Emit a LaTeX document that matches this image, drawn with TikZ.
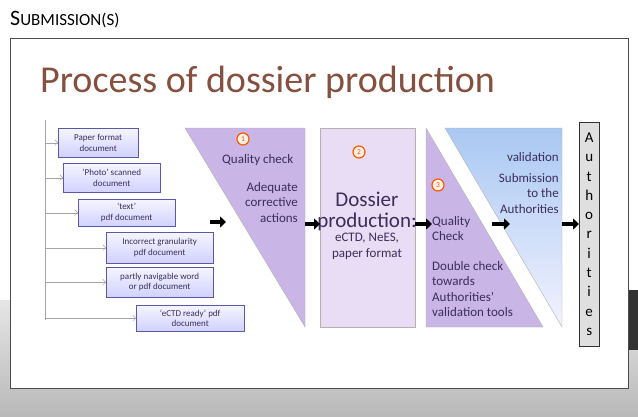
\documentclass[tikz,border=0pt]{standalone}
\usepackage{fontspec}
\setmainfont{Carlito}
\usetikzlibrary{arrows.meta,shapes.geometric}
\definecolor{purp}{HTML}{C9B5E6}
\definecolor{purpl}{HTML}{E8DDF5}
\definecolor{bl}{HTML}{A9C8F2}
\definecolor{ttl}{HTML}{84503F}
\definecolor{txt}{HTML}{3B2E5A}
\tikzset{
 doc/.style={draw=blue!30!gray, top color=blue!4, bottom color=blue!18, font=\fontsize{9}{10.5}\selectfont, text=txt, align=center, inner sep=0pt, anchor=north west},
 br/.style={draw=gray!70, -{Straight Barb[length=3pt]}},
 bigarr/.style={line width=4pt, -{Triangle[length=6pt,width=11pt]}},
 lbl/.style={font=\fontsize{13}{15.5}\selectfont, text=txt, inner sep=0pt},
 icon/.style={circle, draw=orange!70!red, fill=orange!10, line width=1.2pt, inner sep=0pt, minimum size=12pt, font=\fontsize{7.5}{7.5}\selectfont, text=orange!60!red}
}
\begin{document}
\begin{tikzpicture}[x=1pt,y=-1pt]
\useasboundingbox (0,0) rectangle (638,416);
\fill[top color=gray!20, bottom color=gray!55] (0,300) rectangle (638,416);
\fill[black!80] (628,290) rectangle (638,350);
\draw[gray!60!black, fill=white, line width=1pt] (10,38) rectangle (628,388);
\node[anchor=west, font=\fontsize{22}{22}\selectfont, inner sep=0pt] (sub) at (10,20) {S\fontsize{17}{17}\selectfont UBMISSION(S)};
\node[anchor=west, font=\fontsize{38}{38}\selectfont, text=ttl, inner sep=0pt] (title) at (40,82) {Process of dossier production};
% documents
\coordinate (top) at (45,120);
\coordinate (bot) at (45,320);
\draw[gray!70] (top) -- (bot);
\node[doc, minimum width=80pt, minimum height=29pt] (d1) at (58,128) {Paper format\\document};
\node[doc, minimum width=97pt, minimum height=29pt] (d2) at (63,163) {`Photo' scanned\\document};
\node[doc, minimum width=97pt, minimum height=27pt] (d3) at (78,199) {`text'\\pdf document};
\node[doc, minimum width=107pt, minimum height=31pt] (d4) at (106,232) {Incorrect granularity\\pdf document};
\node[doc, minimum width=107pt, minimum height=30pt] (d5) at (106,267) {partly navigable word\\or pdf document};
\node[doc, minimum width=108pt, minimum height=26pt] (d6) at (136,305) {`eCTD ready' pdf\\document};
\foreach \d in {d1,d2,d3,d4,d5,d6}{\draw[br] (top|-\d.west) -- (\d.west);}
% stages
\fill[purp] (185,128) -- (305,128) -- (305,327) -- cycle;
\draw[gray!60] (185,128) -- (305,128) -- (305,327) -- cycle;
\node[icon] (i1) at (243,139) {1};
\node[lbl, anchor=west] (q1) at (222,160) {Quality check};
\node[lbl, align=right, anchor=north east] (a1) at (298,182) {Adequate\\corrective\\actions};
\fill[purpl] (320,128) rectangle (415,327);
\draw[gray!60] (320,128) rectangle (415,327);
\node[icon] (i2) at (359,152) {2};
\node[lbl, align=center, font=\fontsize{21}{21}\selectfont] (dp) at (367,211) {Dossier\\production:};
\node[lbl, align=center, anchor=north] (fm) at (367,233) {eCTD, NeES,\\paper format};
\fill[purp] (426,128) -- (426,327) -- (543,327) -- cycle;
\draw[gray!60] (426,128) -- (426,327) -- (543,327) -- cycle;
\node[icon] (i3) at (438,185) {3};
\node[lbl, align=left, anchor=north west] (q3) at (432,216) {Quality\\Check};
\node[lbl, align=left, anchor=north west] (dc) at (432,261) {Double check\\towards\\Authorities'\\validation tools};
\shade[top color=bl, bottom color=blue!5] (445,128) -- (562,128) -- (562,327) -- cycle;
\draw[gray!60] (445,128) -- (562,128) -- (562,327) -- cycle;
\node[lbl, anchor=east] (v) at (559,157) {validation};
\node[lbl, align=right, anchor=north east] (s) at (559,173) {Submission\\to the\\Authorities};
\node[draw=gray!40!black, fill=gray!25, minimum width=20pt, minimum height=224pt, anchor=north west, inner sep=0pt, align=center, font=\fontsize{15}{19.3}\selectfont] (auth) at (579,122) {A\\u\\t\\h\\o\\r\\i\\t\\i\\e\\s};
% arrows
\coordinate (a0s) at (210,222); \coordinate (a0e) at (226,222);
\draw[bigarr] (a0s) -- (a0e);
\coordinate (a1s) at (305,224); \draw[bigarr] (a1s) -- (320,224);
\coordinate (a2s) at (415,224); \draw[bigarr] (a2s) -- (432,224);
\coordinate (a3s) at (492,224); \draw[bigarr] (a3s) -- (510,224);
\coordinate (a4s) at (562,224); \draw[bigarr] (a4s) -- (auth.west|-a4s);
\end{tikzpicture}
\end{document}
